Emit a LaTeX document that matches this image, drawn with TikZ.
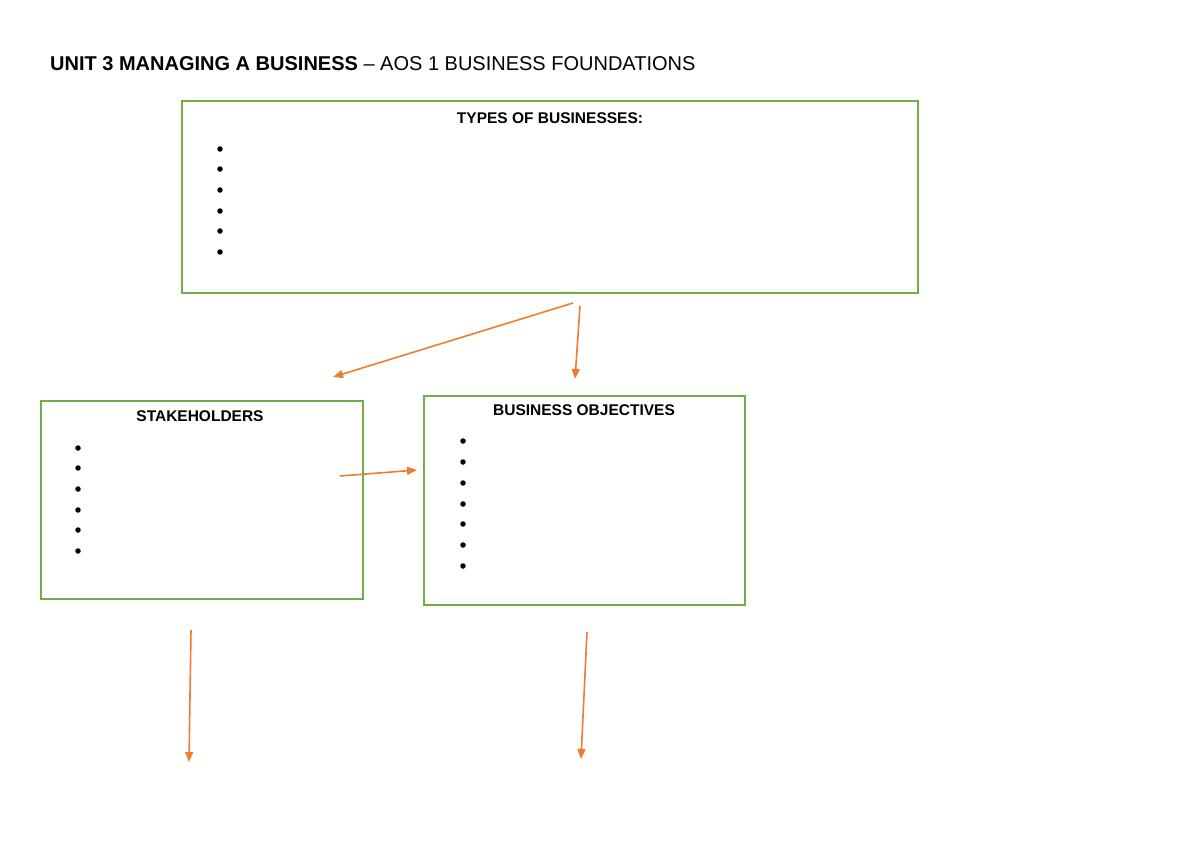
\documentclass[tikz,border=0pt]{standalone}
\usepackage{fontspec}
\setmainfont{Liberation Sans}
\usetikzlibrary{arrows.meta}
\definecolor{grn}{RGB}{112,173,71}
\definecolor{org}{RGB}{237,125,49}
\tikzset{box/.style={draw=grn,line width=2pt},
 hd/.style={font=\bfseries\fontsize{15.5pt}{18pt}\selectfont,anchor=center},
 bul/.style={circle,fill=black,inner sep=0pt,minimum size=5.5pt},
 arr/.style={draw=org,line width=1.6pt,-{Triangle[length=10pt,width=8pt]}}}
\begin{document}
\begin{tikzpicture}[x=1pt,y=-1pt]
\useasboundingbox (0,0) rectangle (1200,849);
\node[anchor=base west,font=\fontsize{20pt}{24pt}\selectfont,inner sep=0] (title) at (50,70) {\textbf{UNIT 3 MANAGING A BUSINESS} -- AOS 1 BUSINESS FOUNDATIONS};
\draw[box] (182,101) rectangle (918,293);
\node[hd] (t1) at (550,118) {TYPES OF BUSINESSES:};
\foreach \y [count=\i] in {149,169,190,211,231,252} \node[bul] (a\i) at (220,\y) {};
\draw[box] (41,401) rectangle (363,599);
\node[hd] (t2) at (200,416) {STAKEHOLDERS};
\foreach \y [count=\i] in {448,468,489,510,530,551} \node[bul] (b\i) at (78,\y) {};
\draw[box] (424,396) rectangle (745,605);
\node[hd] (t3) at (584,410) {BUSINESS OBJECTIVES};
\foreach \y [count=\i] in {441,462,483,504,524,545,566} \node[bul] (c\i) at (463,\y) {};
\coordinate (p1) at (573,303); \coordinate (q1) at (333,377);
\coordinate (p2) at (580,306); \coordinate (q2) at (575,379);
\coordinate (p3) at (340,476); \coordinate (q3) at (417,470);
\coordinate (p4) at (191,630); \coordinate (q4) at (189,762);
\coordinate (p5) at (587,632); \coordinate (q5) at (581,759);
\foreach \i in {1,...,5} \draw[arr] (p\i) -- (q\i);
\end{tikzpicture}
\end{document}
